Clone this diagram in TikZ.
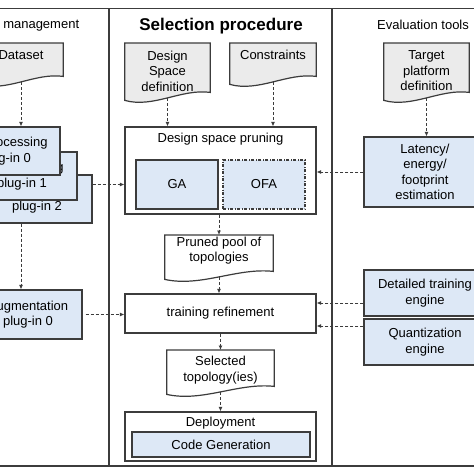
\documentclass[tikz,border=0pt]{standalone}
\usepackage{fontspec}
\setmainfont{Liberation Sans}
\usetikzlibrary{arrows.meta,calc}
\definecolor{bluefill}{HTML}{DDE8F6}
\definecolor{grayfill}{HTML}{EBEBEB}
\definecolor{edge}{HTML}{3C3C3C}
\tikzset{
  base/.style={font=\fontsize{13}{15.5}\selectfont, align=center, inner sep=0pt, text=black},
  bluebox/.style={base, draw=edge, fill=bluefill, line width=1.2pt},
  plainbox/.style={base, draw=edge, fill=white, line width=1.2pt},
  docbox/.style={base, draw=none, minimum width=#1},
  docline/.style={draw=edge, line width=1.2pt},
  frameline/.style={draw=edge, line width=1.3pt},
  conn/.style={draw=edge, line width=1pt, dash pattern=on 3pt off 2pt, -{Latex[length=4.5pt,width=4pt]}},
  title/.style={base},
  bigtitle/.style={base, font=\fontsize{17}{20}\selectfont\bfseries},
}
\newcommand{\docpath}[2]{%
  \draw[docline, fill=#2] (#1.north west) -- (#1.north east) -- ($(#1.south east)+(0pt,4pt)$)
    .. controls ($(#1.south west)!0.667!(#1.south east)+(0pt,8pt)$) and ($(#1.south west)!0.333!(#1.south east)+(0pt,-12pt)$)
    .. ($(#1.south west)+(0pt,-4pt)$) -- cycle;}
\begin{document}
\begin{tikzpicture}[x=1pt,y=-1pt]
\useasboundingbox (0,0) rectangle (474,474);
\clip (0,0) rectangle (474,474);
\fill[white] (0,0) rectangle (474,474);

% frame
\draw[frameline] (0,8.5) -- (474,8.5);
\draw[frameline] (0,466) -- (474,466);
\draw[frameline] (109,8.5) -- (109,466);
\draw[frameline] (332,8.5) -- (332,466);

% titles
\node[title] (t1) at (17,25) {Dataset management};
\node[bigtitle] (t2) at (221,26) {Selection procedure};
\node[title] (t3) at (423,25) {Evaluation tools};

% left column
\node[docbox=84pt, minimum height=37pt, anchor=north] (ds) at (21,43) {};
\docpath{ds}{grayfill}
\node[base] (dst) at (21,55) {Dataset};

\node[bluebox, minimum width=110pt, minimum height=48pt] (pp2) at (37,199) {Preprocessing\\plug-in 2};
\node[bluebox, minimum width=110pt, minimum height=48pt] (pp1) at (22,176) {Preprocessing\\plug-in 1};
\node[bluebox, minimum width=108pt, minimum height=48pt] (pp0) at (6,151) {Preprocessing\\plug-in 0};

\node[bluebox, minimum width=108pt, minimum height=49pt] (aug) at (28,314.5) {Augmentation\\plug-in 0};

% middle column
\node[docbox=85pt, minimum height=53pt, anchor=north] (dsd) at (167.5,43) {};
\docpath{dsd}{grayfill}
\node[base] (dsdt) at (167.5,71) {Design\\Space\\definition};

\node[docbox=86pt, minimum height=37pt, anchor=north] (con) at (273,43) {};
\docpath{con}{grayfill}
\node[base] (cont) at (273,55) {Constraints};

\node[plainbox, minimum width=191pt, minimum height=87pt] (dsp) at (220.5,170.5) {};
\node[base] (dspt) at (220.5,139) {Design space pruning};
\node[bluebox, minimum width=82pt, minimum height=49pt] (ga) at (177,184.5) {GA};
\node[bluebox, minimum width=82pt, minimum height=49pt, dash pattern=on 3pt off 1.5pt on 1pt off 1.5pt] (ofa) at (264,184.5) {OFA};

\node[docbox=108pt, minimum height=40pt, anchor=north] (pp) at (219,235) {};
\docpath{pp}{white}
\node[base] (ppt) at (219,250.5) {Pruned pool of\\topologies};

\node[plainbox, minimum width=191pt, minimum height=39pt] (tr) at (220.5,313.5) {training refinement};

\node[docbox=107pt, minimum height=40pt, anchor=north] (sel) at (220.5,350) {};
\docpath{sel}{white}
\node[base] (selt) at (220.5,370) {Selected\\topology(ies)};

\node[plainbox, minimum width=191pt, minimum height=49pt] (dep) at (220.5,436.5) {};
\node[base] (dept) at (220.5,423) {Deployment};
\node[bluebox, minimum width=178pt, minimum height=25pt] (cg) at (221,444.5) {Code Generation};

% right column
\node[docbox=85pt, minimum height=53pt, anchor=north] (tpd) at (426.5,43) {};
\docpath{tpd}{grayfill}
\node[base] (tpdt) at (426.5,71) {Target\\platform\\definition};

\node[bluebox, minimum width=122pt, minimum height=70pt] (lat) at (425,172) {Latency/\\energy/\\footprint\\estimation};
\node[bluebox, minimum width=122pt, minimum height=46pt] (det) at (425,293) {Detailed training\\engine};
\node[bluebox, minimum width=122pt, minimum height=46pt] (qe) at (425,342) {Quantization\\engine};

% connectors
\draw[conn, shorten <=2pt] (ds.south) -- (ds.south |- pp0.north);
\draw[conn] (ds.south |- pp2.south) -- (ds.south |- aug.north);
\draw[conn] (pp2.east |- ga.west) -- (dsp.west |- ga.west);
\draw[conn, shorten <=3pt] (aug.east) -- (aug.east -| tr.west);
\draw[conn, shorten <=2pt] (dsd.south) -- (dsd.south |- dsp.north);
\draw[conn, shorten <=2pt] (con.south) -- (con.south |- dsp.north);
\draw[conn] (pp.north |- dsp.south) -- (pp.north);
\draw[conn, shorten <=2pt] (pp.south) -- (pp.south |- tr.north);
\draw[conn] (sel.north |- tr.south) -- (sel.north);
\draw[conn, shorten <=2pt] (sel.south) -- (sel.south |- dep.north);
\draw[conn, shorten <=2pt] (tpd.south) -- (tpd.south |- lat.north);
\draw[conn] (lat.west) -- (lat.west -| dsp.east);
\coordinate (tr1) at ($(tr.east)+(0,-10.5)$);
\coordinate (tr2) at ($(tr.east)+(0,12.5)$);
\draw[conn] (tr1 -| det.west) -- (tr1);
\draw[conn] (tr2 -| qe.west) -- (tr2);
\end{tikzpicture}
\end{document}
